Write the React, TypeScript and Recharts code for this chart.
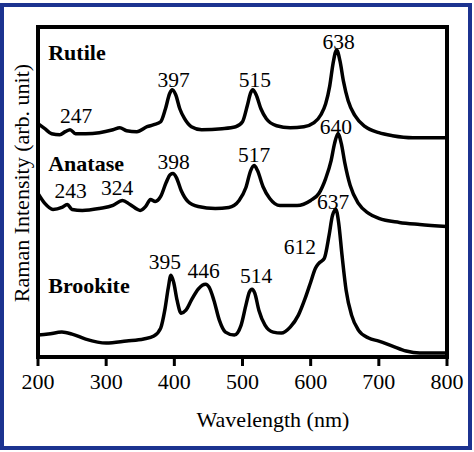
import React from 'react';
import { LineChart, Line, XAxis, YAxis, ReferenceDot, ReferenceArea } from 'recharts';

// wavelength (nm) / intensity (arb.), series stacked with offsets
const rutileWl = [200, 210, 220, 232, 240, 247, 255, 270, 290, 310, 320, 330, 345, 360, 370, 380, 387, 393, 397, 402, 408, 415, 425, 440, 470, 490, 500, 507, 512, 515, 520, 527, 535, 550, 570, 590, 605, 615, 622, 628, 633, 638, 643, 648, 655, 665, 680, 700, 720, 750, 800];
const rutileI = [234, 229, 224, 223, 226, 228, 224, 224, 225, 228, 230, 227, 226, 231, 233, 236, 249, 264, 268, 263, 249, 239, 231, 228, 229, 231, 236, 252, 265, 268, 263, 249, 239, 232, 230, 231, 235, 243, 254, 272, 295, 308, 297, 277, 257, 242, 231, 225, 222, 220, 220];

const anataseWl = [200, 210, 222, 235, 243, 250, 265, 290, 310, 324, 335, 350, 358, 365, 372, 380, 388, 394, 398, 403, 410, 420, 435, 460, 480, 495, 505, 512, 517, 522, 530, 540, 555, 580, 600, 612, 622, 630, 635, 640, 645, 650, 658, 670, 685, 700, 730, 760, 800];
const anataseI = [164, 154, 148, 150, 153, 148, 147, 149, 152, 157, 153, 147, 151, 158, 156, 161, 175, 183, 184, 180, 167, 156, 151, 149, 150, 157, 170, 187, 192, 187, 171, 159, 152, 152, 157, 164, 179, 197, 214, 224, 214, 195, 172, 154, 144, 139, 135, 133, 131];

const brookiteWl = [200, 215, 235, 250, 270, 300, 330, 355, 370, 380, 386, 391, 395, 399, 404, 410, 417, 425, 435, 441, 446, 451, 458, 466, 475, 488, 498, 505, 510, 514, 518, 524, 533, 545, 557, 570, 582, 592, 600, 607, 612, 620, 627, 632, 637, 641, 646, 652, 660, 670, 685, 700, 720, 740, 760, 800];
const brookiteI = [22, 23, 25, 23, 18, 14, 16, 18, 21, 29, 47, 69, 82, 75, 57, 44, 47, 57, 68, 72, 73, 70, 57, 37, 25, 22, 32, 52, 65, 68, 64, 47, 32, 25, 24, 30, 42, 59, 75, 89, 94, 99, 122, 142, 148, 135, 102, 67, 42, 27, 19, 16, 11, 6, 4, 4];

const xTicks = [200, 300, 400, 500, 600, 700, 800];

// peak labels: text, wavelength, intensity of label centre
const peakText = ['638', '397', '515', '247', '640', '398', '517', '243', '324', '637', '612', '395', '446', '514'];
const peakWl = [641, 399, 518, 256, 637, 399, 517, 248, 316, 633, 584, 386, 443, 520];
const peakLevel = [316, 278, 278, 242, 231, 196, 203, 167, 170, 156, 111, 96, 87, 82];

const phaseNames = ['Rutile', 'Anatase', 'Brookite'];
const phaseLevel = [306, 194, 72];

const toRows = (wl: number[], ys: number[]) => wl.map((x, i) => ({ x, y: ys[i] }));
const rutile = toRows(rutileWl, rutileI);
const anatase = toRows(anataseWl, anataseI);
const brookite = toRows(brookiteWl, brookiteI);

const FONT = 'Liberation Serif';

const centeredText = (value: string, anchor: 'middle' | 'start', bold = false) =>
  (props: any) => {
    const vb = props.viewBox || {};
    return (
      <text x={vb.x} y={vb.y} dy="0.35em" textAnchor={anchor} fontFamily={FONT}
        fontSize={bold ? 22 : 21.5} fontWeight={bold ? 'bold' : 'normal'} fill="#000">
        {value}
      </text>
    );
  };

export default function App() {
  return (
    <div style={{ position: 'absolute', left: 0, top: 0, width: 474, height: 452, background: '#fff' }}>
      <div style={{
        position: 'absolute', left: 0, top: 3, width: 472, height: 447,
        border: '4px solid #1c3390', boxSizing: 'border-box',
      }} />
      <LineChart width={474} height={452} data={rutile}
        margin={{ top: 27, right: 27, bottom: 65, left: 38 }}>
        <XAxis dataKey="x" type="number" domain={[200, 800]} ticks={xTicks}
          allowDataOverflow tickSize={9} tickMargin={7}
          axisLine={false}
          tickLine={{ stroke: '#000', strokeWidth: 3 }}
          tick={{ fill: '#000', fontSize: 22, fontFamily: FONT }}
          height={30}
          label={{
            content: () => (
              <g fontFamily={FONT} fontSize={22} fill="#000">
                <text x={273} y={427} textAnchor="middle">Wavelength (nm)</text>
                <text x={21} y={183} dy="0.35em" textAnchor="middle" transform="rotate(-90 21 183)">
                  Raman Intensity (arb. unit)
                </text>
              </g>
            ),
          }} />
        <YAxis type="number" domain={[0, 331]} width={0} hide allowDataOverflow />
        <ReferenceArea x1={200} x2={800} y1={0} y2={331} ifOverflow="visible"
          fill="none" stroke="#000" strokeWidth={4} />
        <Line data={rutile} dataKey="y" type="monotone" stroke="#000" strokeWidth={3.5}
          dot={false} isAnimationActive={false} />
        <Line data={anatase} dataKey="y" type="monotone" stroke="#000" strokeWidth={3.5}
          dot={false} isAnimationActive={false} />
        <Line data={brookite} dataKey="y" type="monotone" stroke="#000" strokeWidth={3.5}
          dot={false} isAnimationActive={false} />
        {peakText.map((t, i) => (
          <ReferenceDot key={'p' + i} x={peakWl[i]} y={peakLevel[i]} r={0} ifOverflow="visible"
            stroke="none" fill="none" label={{ content: centeredText(t, 'middle') }} />
        ))}
        {phaseNames.map((n, i) => (
          <ReferenceDot key={'n' + i} x={215} y={phaseLevel[i]} r={0} ifOverflow="visible"
            stroke="none" fill="none" label={{ content: centeredText(n, 'start', true) }} />
        ))}
      </LineChart>
    </div>
  );
}
